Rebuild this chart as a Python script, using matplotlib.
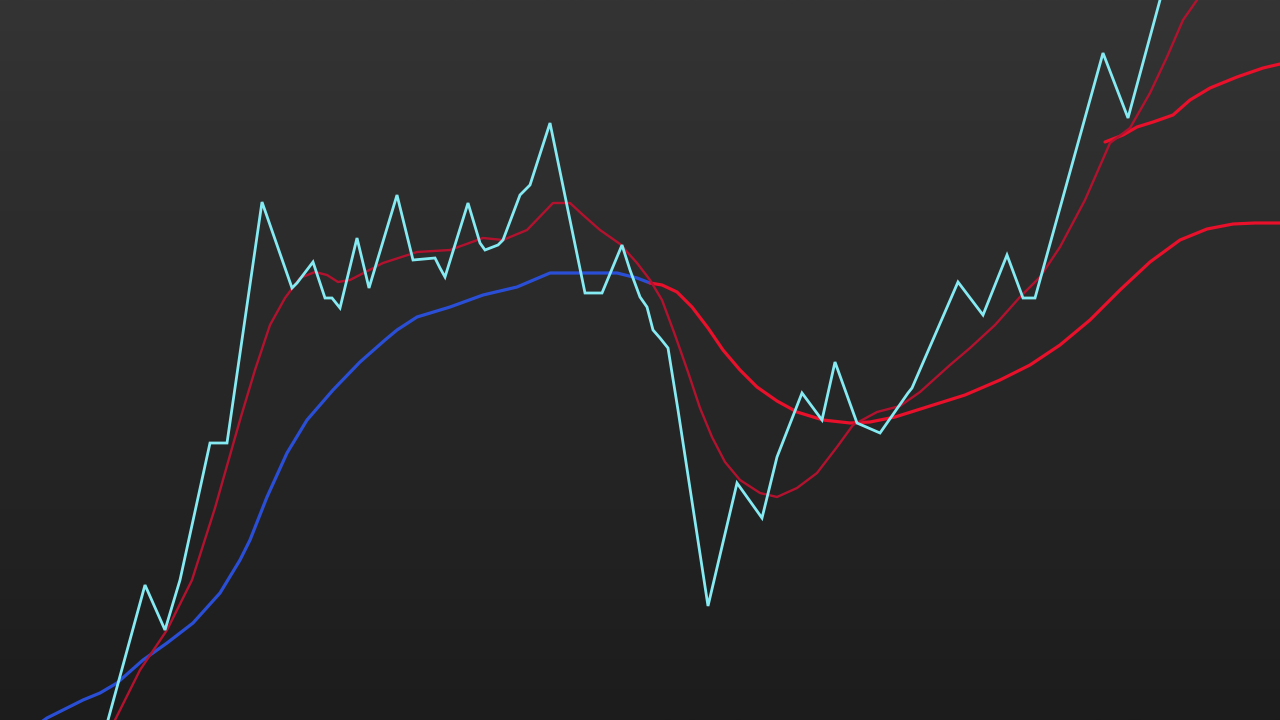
import numpy as np
import matplotlib.pyplot as plt

# price line (cyan)
price_x = [100, 108, 145, 165, 180, 210, 227, 262, 292, 297, 313, 325, 332, 340, 357, 369,
           397, 413, 435, 440, 445, 468, 480, 485, 498, 503, 520, 530, 550, 585, 602, 622,
           630, 640, 647, 653, 660, 668, 678, 708, 737, 762, 777, 802, 822, 835, 857, 880,
           908, 912, 958, 983, 1007, 1023, 1035, 1103, 1128, 1160, 1170]
price_y = [-29, 0, 135, 90, 140, 277, 277, 518, 432, 437, 458, 422, 422, 412, 482, 432,
           525, 460, 462, 452, 443, 517, 477, 470, 475, 480, 525, 535, 597, 427, 427, 475,
           450, 423, 413, 390, 382, 372, 310, 114, 237, 202, 263, 327, 300, 358, 297, 287,
           327, 332, 438, 405, 465, 422, 422, 667, 602, 720, 757]

# fast moving average (thin dark red)
fast_x = [110, 115, 140, 167, 192, 215, 240, 255, 270, 285, 300, 315, 327, 338, 350, 383,
          417, 450, 483, 503, 527, 553, 570, 583, 600, 620, 637, 650, 662, 675, 688, 700,
          712, 725, 740, 760, 777, 797, 817, 837, 853, 877, 900, 920, 950, 970, 995, 1020,
          1040, 1060, 1085, 1110, 1130, 1150, 1167, 1183, 1197, 1205]
fast_y = [-18, 0, 50, 90, 140, 212, 300, 350, 395, 422, 442, 448, 445, 438, 440, 457,
          468, 470, 482, 480, 490, 517, 517, 505, 490, 476, 457, 440, 420, 385, 348, 312,
          283, 258, 240, 227, 223, 232, 247, 273, 295, 308, 314, 328, 355, 372, 395, 423,
          443, 473, 520, 577, 592, 627, 663, 700, 720, 740]

# slow moving average: blue while rising, red after the turn
slow_x = [40, 47, 83, 100, 117, 143, 167, 193, 220, 240, 250, 267, 287, 307, 333, 360,
          385, 397, 417, 450, 483, 517, 550, 583, 617, 637, 650, 662, 677, 692, 708, 723,
          740, 757, 777, 797, 823, 850, 870, 895, 930, 965, 1000, 1030, 1060, 1090, 1120,
          1150, 1180, 1207, 1233, 1255, 1280, 1290]
slow_y = [-3, 2, 20, 27, 37, 60, 77, 97, 127, 160, 180, 223, 267, 300, 330, 358,
          380, 390, 403, 413, 425, 433, 447, 447, 447, 442, 437, 435, 428, 413, 392, 370,
          350, 333, 319, 308, 300, 297, 298, 303, 314, 325, 340, 355, 375, 400, 430,
          458, 480, 491, 496, 497, 497, 497]
slow_split = 26  # index where colour changes

# short upper red average
upper_x = [1105, 1123, 1137, 1153, 1173, 1190, 1210, 1237, 1263, 1280, 1290]
upper_y = [578, 585, 593, 598, 605, 620, 632, 643, 652, 656, 658]

fig = plt.figure(figsize=(12.8, 7.2), dpi=100)
ax = fig.add_axes([0, 0, 1, 1])

# dark gradient background
grad = np.linspace(0, 1, 256).reshape(-1, 1)
ax.imshow(grad, extent=[0, 1280, 0, 720], aspect='auto', origin='lower',
          cmap=plt.matplotlib.colors.LinearSegmentedColormap.from_list('bg', ['#1c1c1c', '#343434']),
          zorder=0)

ax.plot(slow_x[:slow_split + 1], slow_y[:slow_split + 1], color='#2a4fd6', lw=2.3,
        solid_capstyle='round', zorder=2)
ax.plot(slow_x[slow_split:], slow_y[slow_split:], color='#e8102a', lw=2.3,
        solid_capstyle='round', zorder=2)
ax.plot(upper_x, upper_y, color='#e8102a', lw=2.3, solid_capstyle='round', zorder=2)
ax.plot(fast_x, fast_y, color='#b3122f', lw=1.7, zorder=3)
ax.plot(price_x, price_y, color='#86eaf2', lw=2.0, solid_joinstyle='miter', zorder=4)

ax.set_xlim(0, 1280)
ax.set_ylim(0, 720)
ax.axis('off')

fig.savefig('out.png', dpi=100)
